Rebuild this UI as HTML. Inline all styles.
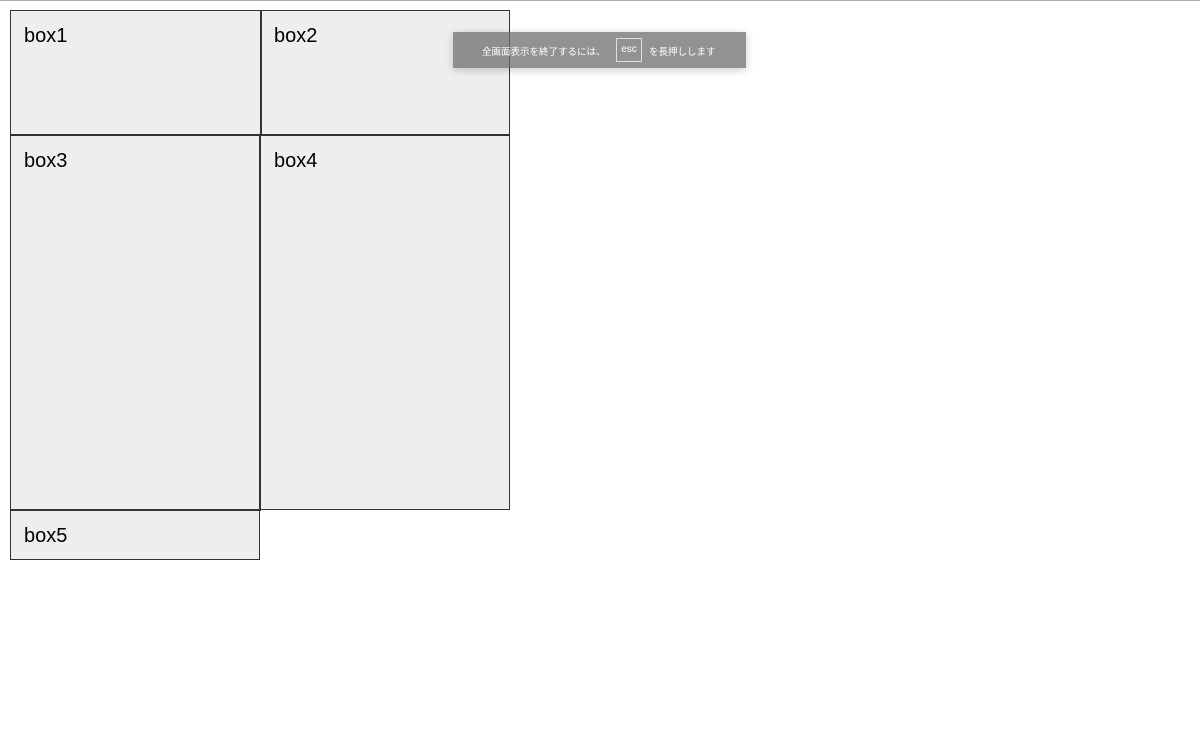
<!DOCTYPE html>
<html><head><meta charset="utf-8"><style>
body{margin:0;width:1200px;height:750px;background:#fff;position:relative;overflow:hidden;font-family:"Liberation Sans",Arial,sans-serif}
.top{position:absolute;left:0;top:0;width:1200px;height:1px;background:#aaa}
.b{position:absolute;box-sizing:border-box;border:1px solid #333;background:#eee;font-size:20px;color:#000;padding:13px 0 0 13px;line-height:24px}
.t{position:absolute;left:453px;top:32px;width:293px;height:36px;background:rgba(110,110,110,0.75);box-shadow:0 2px 8px rgba(0,0,0,.2);color:#fff;font-family:"Liberation Sans","Noto Sans CJK JP",sans-serif;font-size:9.5px}
.t span{position:absolute;top:12px}
.esc{position:absolute;left:163px;top:6px;width:26px;height:24px;box-sizing:border-box;border:1px solid #ddd;text-align:center;line-height:22px;font-size:10px}
</style></head><body>
<div class="top"></div>
<div class="b" style="left:10px;top:10px;width:251px;height:126px">box1</div>
<div class="b" style="left:260px;top:10px;width:250px;height:126px;border-left-width:2px;padding-left:12px">box2</div>
<div class="b" style="left:10px;top:134px;width:251px;height:377px;border-top-width:2px;border-right-width:2px">box3</div>
<div class="b" style="left:259px;top:134px;width:251px;height:376px;border-top-width:2px;border-left-width:2px">box4</div>
<div class="b" style="left:10px;top:509px;width:250px;height:51px;border-top-width:2px">box5</div>
<div class="t"><span style="left:29px">全画面表示を終了するには、</span><div class="esc">esc</div><span style="left:196px">を長押しします</span></div>
</body></html>
